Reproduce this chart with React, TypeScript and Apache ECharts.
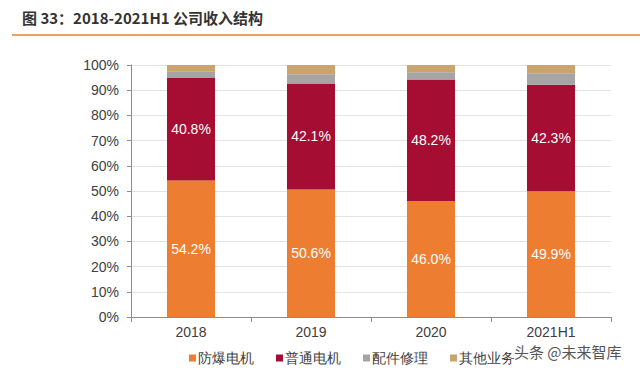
import React, { useEffect, useRef } from "react";
import * as echarts from "echarts";

const categories = ["2018", "2019", "2020", "2021H1"];
const seriesNames = ["防爆电机", "普通电机", "配件修理", "其他业务"];
const explosionProof = [54.2, 50.6, 46.0, 49.9];
const ordinaryMotor = [40.8, 42.1, 48.2, 42.3];
const partsRepair = [2.3, 3.6, 2.9, 4.5];
const otherBusiness = [2.7, 3.7, 2.9, 3.3];
const colors = ["#ED7D31", "#A50D32", "#A5A5A5", "#C9A46C"];
const yTicks = [0, 10, 20, 30, 40, 50, 60, 70, 80, 90, 100];

export default function App() {
  const ref = useRef<HTMLDivElement>(null);
  useEffect(() => {
    if (!ref.current) return;
    const chart = echarts.init(ref.current, null, { renderer: "svg" });
    const font = "Liberation Sans, Arial, sans-serif";
    const data = [explosionProof, ordinaryMotor, partsRepair, otherBusiness];
    chart.setOption({
      animation: false,
      textStyle: { fontFamily: font },
      grid: { left: 131, right: 29, top: 65, bottom: 55, containLabel: false },
      xAxis: {
        type: "category",
        data: categories,
        boundaryGap: true,
        axisLine: { lineStyle: { color: "#8c8c8c", width: 1 } },
        axisTick: { show: true, length: 5, lineStyle: { color: "#8c8c8c" } },
        axisLabel: { color: "#404040", fontSize: 14, margin: 8, fontFamily: font },
      },
      yAxis: {
        type: "value",
        min: 0,
        max: 100,
        interval: 10,
        axisLine: { show: true, lineStyle: { color: "#8c8c8c" } },
        axisTick: { show: true, inside: false, length: 4, lineStyle: { color: "#8c8c8c" } },
        splitLine: { show: true, lineStyle: { color: "#e3e3e3" } },
        axisLabel: {
          color: "#404040",
          fontSize: 14,
          margin: 12,
          fontFamily: font,
          formatter: (v: number) => (yTicks.includes(v) ? v + "%" : ""),
        },
      },
      legend: {
        data: seriesNames,
        top: 346,
        left: 184,
        itemWidth: 7,
        itemHeight: 7,
        itemGap: 22,
        icon: "rect",
        textStyle: { color: "#404040", fontSize: 14, fontFamily: font, padding: [0, 0, 0, -3] },
      },
      series: seriesNames.map((name, i) => ({
        name,
        type: "bar",
        stack: "total",
        barWidth: "40%",
        data: data[i],
        itemStyle: { color: colors[i] },
        label: {
          show: i < 2,
          position: "inside",
          color: "#ffffff",
          fontSize: 14,
          fontFamily: font,
          formatter: (p: any) => Number(p.value).toFixed(1) + "%",
        },
      })),
      graphic: [
        {
          type: "text",
          left: 22,
          top: 10,
          style: {
            text: "图 33：2018-2021H1 公司收入结构",
            fill: "#333333",
            font: "bold 15px 'Noto Sans CJK SC', sans-serif",
          },
        },
        {
          type: "line",
          shape: { x1: 12, y1: 35, x2: 640, y2: 35 },
          style: { stroke: "#F0A060", lineWidth: 2 },
        },
        {
          type: "text",
          left: 514,
          top: 344,
          style: {
            text: "头条 @未来智库",
            fill: "#555555",
            font: "15px 'Noto Sans CJK SC', sans-serif",
          },
        },
      ],
    });
    return () => chart.dispose();
  }, []);
  return <div ref={ref} style={{ width: 640, height: 372, position: "absolute", left: 0, top: 0 }} />;
}
